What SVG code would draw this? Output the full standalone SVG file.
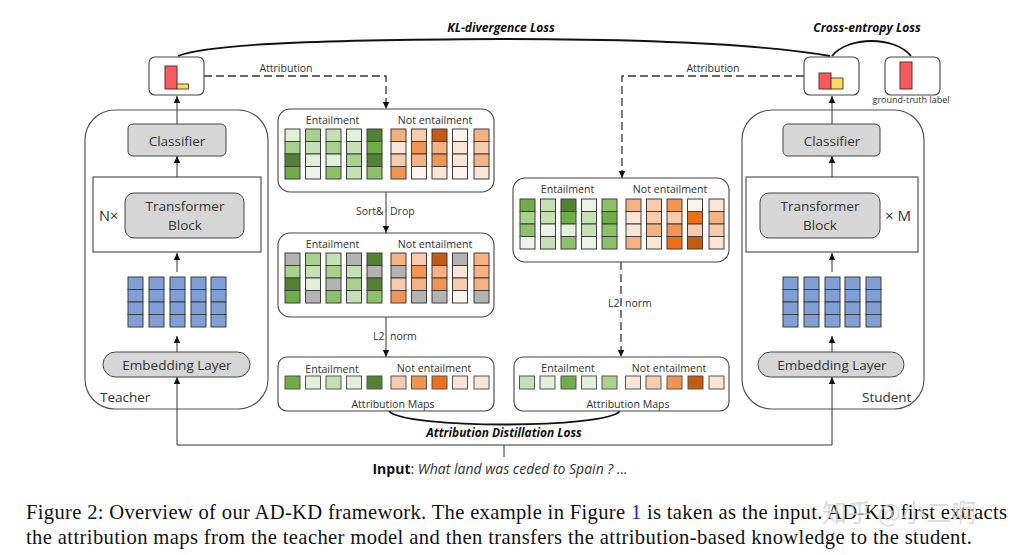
<svg xmlns="http://www.w3.org/2000/svg" width="1018" height="555" viewBox="0 0 1018 555">
<defs>
<marker id="ah" markerUnits="userSpaceOnUse" markerWidth="8" markerHeight="8" refX="7" refY="4" orient="auto"><path d="M0,0.8 L7,4 L0,7.2 Z" fill="#111"/></marker>
<style>
text{font-family:"Open Sans","Noto Sans",sans-serif;fill:#333;font-size:10.5px}
.c{width:15px;height:12.5px;stroke:#3d3d3d;stroke-width:1}
.s{width:15px;height:13px;stroke:#555;stroke-width:1}
.panel{fill:#fff;stroke:#444;stroke-width:1.1}
.gb{fill:#d6d6d6;stroke:#444;stroke-width:1}
.lb{font-size:13.5px;text-anchor:middle;fill:#333}
.big{fill:#fff;stroke:#555;stroke-width:1.2}
.loss{font-weight:bold;font-style:italic;text-anchor:middle;fill:#111;font-size:12.1px}
.conn{fill:none;stroke:#333;stroke-width:1}
.dash{fill:none;stroke:#333;stroke-width:1.3;stroke-dasharray:8 4}
.curve{fill:none;stroke:#111;stroke-width:1.8}
.cap{font-family:"Liberation Serif",serif;font-size:20.6px;fill:#111}
.hd{text-anchor:middle;font-size:10.6px}
.x{fill:#7f9fd6}
.g0{fill:#edf4e7}.g1{fill:#e2f0d9}.g2{fill:#c5e0b4}.g3{fill:#a9d18e}.g4{fill:#8cc168}.g5{fill:#70ad47}.g6{fill:#548235}
.o0{fill:#fef4ec}.o1{fill:#fbe5d6}.o2{fill:#f8cbad}.o3{fill:#f4b183}.o4{fill:#f09552}.o5{fill:#ed7018}.o6{fill:#c55a11}
.k{fill:#b3b3b3}
.r{fill:#f85a5f;stroke:#5a3030;stroke-width:1}.y{fill:#ffd966;stroke:#5a4a20;stroke-width:1}
</style>
</defs>
<rect width="1018" height="555" fill="#fff"/>
<g id="teacher">
<rect class="big" x="85" y="110" width="183" height="299" rx="30"/>
<text x="100" y="402" style="font-size:13.5px">Teacher</text>
</g>
<g id="student">
<rect class="big" x="742" y="110" width="182" height="299" rx="30"/>
<text x="862" y="402" style="font-size:13.5px">Student</text>
</g>
<g id="connectors">
<path class="conn" marker-end="url(#ah)" d="M177,124 V96"/>
<path class="conn" marker-end="url(#ah)" d="M177,177 V156"/>
<path class="conn" marker-end="url(#ah)" d="M177,272 V253"/>
<path class="conn" marker-end="url(#ah)" d="M177,352 V336"/>
<path class="conn" marker-end="url(#ah)" d="M832,124 V96"/>
<path class="conn" marker-end="url(#ah)" d="M832,177 V156"/>
<path class="conn" marker-end="url(#ah)" d="M832,272 V253"/>
<path class="conn" marker-end="url(#ah)" d="M832,352 V336"/>
<path class="conn" marker-end="url(#ah)" d="M177,445 V377"/>
<path class="conn" marker-end="url(#ah)" d="M832,445 V377"/>
<path class="conn" d="M177,445 H832 M504,445 V457"/>
<path class="dash" marker-end="url(#ah)" d="M204,76 H386 V109"/>
<path class="dash" marker-end="url(#ah)" d="M804,76 H622 V178"/>
<path class="conn" marker-end="url(#ah)" d="M386,192 V233"/>
<path class="conn" marker-end="url(#ah)" d="M386,317 V357"/>
<path class="dash" marker-end="url(#ah)" d="M621,262 V357"/>
<path class="curve" d="M178,56 C205,45 300,40 500,39 C640,39 760,44 830,56"/>
<path class="curve" d="M832,56 C848,36 895,36 911,56"/>
<path class="curve" d="M389,411 C403,429 606,429 620,411"/>
</g>
<g id="teacher-logits">
<rect class="panel" x="149" y="57" width="55" height="38" rx="6"/>
<rect class="r" x="165" y="66" width="12" height="23"/><rect class="y" x="177" y="84" width="11.500" height="5"/>
</g>
<g id="student-logits">
<rect class="panel" x="804" y="57" width="55" height="38" rx="6"/>
<rect class="r" x="819" y="73" width="12" height="16"/><rect class="y" x="831" y="78" width="12" height="11"/>
</g>
<g id="ground-truth">
<rect class="panel" x="885" y="57" width="55" height="38" rx="6"/>
<rect class="r" x="900" y="62" width="12" height="27"/>
<text x="911" y="103" text-anchor="middle" style="font-size:9px">ground-truth label</text>
</g>
<g id="teacher-classifier"><rect class="gb" x="128" y="124" width="98" height="32" rx="5"/><text class="lb" x="177" y="145.500">Classifier</text></g>
<g id="student-classifier"><rect class="gb" x="783" y="124" width="97" height="32" rx="5"/><text class="lb" x="832" y="145.500">Classifier</text></g>
<g id="teacher-transformer">
<rect fill="#fff" stroke="#333" x="93" y="177" width="168" height="75"/>
<text x="99" y="221" style="font-size:14.5px">N×</text>
<rect class="gb" x="125" y="193" width="119" height="45" rx="9"/>
<text class="lb" x="185" y="211">Transformer</text><text class="lb" x="185" y="230">Block</text>
</g>
<g id="student-transformer">
<rect fill="#fff" stroke="#333" x="746" y="177" width="172" height="75"/>
<text x="885" y="221" style="font-size:15px">× M</text>
<rect class="gb" x="760" y="193" width="120" height="45" rx="9"/>
<text class="lb" x="820" y="211">Transformer</text><text class="lb" x="820" y="230">Block</text>
</g>
<g id="teacher-embedding-cells">
<g transform="translate(128,277)"><rect class="c x"/><rect class="c x" y="12.500"/><rect class="c x" y="25"/><rect class="c x" y="37.500"/></g>
<g transform="translate(149,277)"><rect class="c x"/><rect class="c x" y="12.500"/><rect class="c x" y="25"/><rect class="c x" y="37.500"/></g>
<g transform="translate(170,277)"><rect class="c x"/><rect class="c x" y="12.500"/><rect class="c x" y="25"/><rect class="c x" y="37.500"/></g>
<g transform="translate(191,277)"><rect class="c x"/><rect class="c x" y="12.500"/><rect class="c x" y="25"/><rect class="c x" y="37.500"/></g>
<g transform="translate(211,277)"><rect class="c x"/><rect class="c x" y="12.500"/><rect class="c x" y="25"/><rect class="c x" y="37.500"/></g>
</g>
<g id="student-embedding-cells">
<g transform="translate(783,277)"><rect class="c x"/><rect class="c x" y="12.500"/><rect class="c x" y="25"/><rect class="c x" y="37.500"/></g>
<g transform="translate(804,277)"><rect class="c x"/><rect class="c x" y="12.500"/><rect class="c x" y="25"/><rect class="c x" y="37.500"/></g>
<g transform="translate(825,277)"><rect class="c x"/><rect class="c x" y="12.500"/><rect class="c x" y="25"/><rect class="c x" y="37.500"/></g>
<g transform="translate(845,277)"><rect class="c x"/><rect class="c x" y="12.500"/><rect class="c x" y="25"/><rect class="c x" y="37.500"/></g>
<g transform="translate(866,277)"><rect class="c x"/><rect class="c x" y="12.500"/><rect class="c x" y="25"/><rect class="c x" y="37.500"/></g>
</g>
<g id="teacher-embedding"><rect class="gb" x="103" y="352" width="147" height="25" rx="12.500"/><text class="lb" x="177" y="370">Embedding Layer</text></g>
<g id="student-embedding"><rect class="gb" x="758" y="352" width="146" height="25" rx="12.500"/><text class="lb" x="832" y="370">Embedding Layer</text></g>

<g id="teacher-attr">
<rect class="panel" x="278" y="109" width="216" height="83" rx="12"/>
<text class="hd" x="332.500" y="124">Entailment</text><text class="hd" x="435" y="124">Not entailment</text>
<g transform="translate(285,129)"><rect class="c g1"/><rect class="c g3" y="12.500"/><rect class="c g6" y="25"/><rect class="c g5" y="37.500"/></g>
<g transform="translate(305.500,129)"><rect class="c g3"/><rect class="c g2" y="12.500"/><rect class="c g1" y="25"/><rect class="c g0" y="37.500"/></g>
<g transform="translate(326,129)"><rect class="c g2"/><rect class="c g3" y="12.500"/><rect class="c g1" y="25"/><rect class="c g4" y="37.500"/></g>
<g transform="translate(346.500,129)"><rect class="c g1"/><rect class="c g2" y="12.500"/><rect class="c g3" y="25"/><rect class="c g2" y="37.500"/></g>
<g transform="translate(367,129)"><rect class="c g6"/><rect class="c g5" y="12.500"/><rect class="c g6" y="25"/><rect class="c g4" y="37.500"/></g>
<g transform="translate(391,129)"><rect class="c o3"/><rect class="c o1" y="12.500"/><rect class="c o2" y="25"/><rect class="c o4" y="37.500"/></g>
<g transform="translate(411.500,129)"><rect class="c o2"/><rect class="c o4" y="12.500"/><rect class="c o3" y="25"/><rect class="c o0" y="37.500"/></g>
<g transform="translate(432,129)"><rect class="c o6"/><rect class="c o3" y="12.500"/><rect class="c o4" y="25"/><rect class="c o1" y="37.500"/></g>
<g transform="translate(452.500,129)"><rect class="c o0"/><rect class="c o1" y="12.500"/><rect class="c o1" y="25"/><rect class="c o0" y="37.500"/></g>
<g transform="translate(474,129)"><rect class="c o3"/><rect class="c o2" y="12.500"/><rect class="c o3" y="25"/><rect class="c o1" y="37.500"/></g>
</g>
<g id="sorted-attr">
<rect class="panel" x="278" y="233" width="216" height="84" rx="12"/>
<text class="hd" x="332.500" y="248">Entailment</text><text class="hd" x="435" y="248">Not entailment</text>
<g transform="translate(285,253)"><rect class="c k"/><rect class="c g3" y="12.500"/><rect class="c g6" y="25"/><rect class="c g5" y="37.500"/></g>
<g transform="translate(305.500,253)"><rect class="c g3"/><rect class="c g2" y="12.500"/><rect class="c g1" y="25"/><rect class="c k" y="37.500"/></g>
<g transform="translate(326,253)"><rect class="c g2"/><rect class="c g3" y="12.500"/><rect class="c k" y="25"/><rect class="c g4" y="37.500"/></g>
<g transform="translate(346.500,253)"><rect class="c k"/><rect class="c g2" y="12.500"/><rect class="c g3" y="25"/><rect class="c g2" y="37.500"/></g>
<g transform="translate(367,253)"><rect class="c g6"/><rect class="c k" y="12.500"/><rect class="c g6" y="25"/><rect class="c g4" y="37.500"/></g>
<g transform="translate(391,253)"><rect class="c o3"/><rect class="c k" y="12.500"/><rect class="c o2" y="25"/><rect class="c o4" y="37.500"/></g>
<g transform="translate(411.500,253)"><rect class="c o2"/><rect class="c o4" y="12.500"/><rect class="c o3" y="25"/><rect class="c k" y="37.500"/></g>
<g transform="translate(432,253)"><rect class="c o6"/><rect class="c o3" y="12.500"/><rect class="c o4" y="25"/><rect class="c k" y="37.500"/></g>
<g transform="translate(452.500,253)"><rect class="c k"/><rect class="c o1" y="12.500"/><rect class="c o2" y="25"/><rect class="c o0" y="37.500"/></g>
<g transform="translate(474,253)"><rect class="c o3"/><rect class="c o3" y="12.500"/><rect class="c o3" y="25"/><rect class="c k" y="37.500"/></g>
</g>
<g id="student-attr">
<rect class="panel" x="513" y="178" width="216" height="84" rx="12"/>
<text class="hd" x="567.500" y="193">Entailment</text><text class="hd" x="670" y="193">Not entailment</text>
<g transform="translate(520,199)"><rect class="c g5"/><rect class="c g3" y="12.500"/><rect class="c g4" y="25"/><rect class="c g0" y="37.500"/></g>
<g transform="translate(540.500,199)"><rect class="c g2"/><rect class="c g2" y="12.500"/><rect class="c g0" y="25"/><rect class="c g2" y="37.500"/></g>
<g transform="translate(561,199)"><rect class="c g6"/><rect class="c g5" y="12.500"/><rect class="c g1" y="25"/><rect class="c g4" y="37.500"/></g>
<g transform="translate(581.500,199)"><rect class="c g0"/><rect class="c g2" y="12.500"/><rect class="c g2" y="25"/><rect class="c g0" y="37.500"/></g>
<g transform="translate(602,199)"><rect class="c g4"/><rect class="c g5" y="12.500"/><rect class="c g4" y="25"/><rect class="c g4" y="37.500"/></g>
<g transform="translate(626,199)"><rect class="c o3"/><rect class="c o1" y="12.500"/><rect class="c o1" y="25"/><rect class="c o3" y="37.500"/></g>
<g transform="translate(646.500,199)"><rect class="c o2"/><rect class="c o2" y="12.500"/><rect class="c o3" y="25"/><rect class="c o1" y="37.500"/></g>
<g transform="translate(667,199)"><rect class="c o4"/><rect class="c o2" y="12.500"/><rect class="c o4" y="25"/><rect class="c o5" y="37.500"/></g>
<g transform="translate(687.500,199)"><rect class="c o0"/><rect class="c o5" y="12.500"/><rect class="c o2" y="25"/><rect class="c o6" y="37.500"/></g>
<g transform="translate(709,199)"><rect class="c o1"/><rect class="c o3" y="12.500"/><rect class="c o2" y="25"/><rect class="c o1" y="37.500"/></g>
</g>
<g id="teacher-map">
<rect class="panel" x="278" y="357" width="216" height="54" rx="9"/>
<text class="hd" x="332" y="373">Entailment</text><text class="hd" x="434" y="372">Not entailment</text>
<rect class="s g5" x="285" y="376"/><rect class="s g1" x="305.500" y="376"/><rect class="s g2" x="326" y="376"/><rect class="s g1" x="346.500" y="376"/><rect class="s g6" x="367" y="376"/>
<rect class="s o2" x="391" y="376"/><rect class="s o4" x="411.500" y="376"/><rect class="s o5" x="432" y="376"/><rect class="s o1" x="452.500" y="376"/><rect class="s o1" x="474" y="376"/>
<text class="hd" x="393" y="408">Attribution Maps</text>
</g>
<g id="student-map">
<rect class="panel" x="514" y="357" width="215" height="54" rx="9"/>
<text class="hd" x="568" y="372">Entailment</text><text class="hd" x="669" y="372">Not entailment</text>
<rect class="s g2" x="519.500" y="376"/><rect class="s g1" x="540" y="376"/><rect class="s g5" x="561" y="376"/><rect class="s g1" x="581.500" y="376"/><rect class="s g3" x="602" y="376"/>
<rect class="s o1" x="625.500" y="376"/><rect class="s o2" x="646" y="376"/><rect class="s o4" x="667" y="376"/><rect class="s o6" x="688" y="376"/><rect class="s o1" x="709" y="376"/>
<text class="hd" x="628" y="408">Attribution Maps</text>
</g>
<g id="labels">
<text class="loss" x="501" y="32">KL-divergence Loss</text>
<text class="loss" x="867" y="32">Cross-entropy Loss</text>
<text x="286" y="72" text-anchor="middle">Attribution</text>
<text x="713" y="72" text-anchor="middle">Attribution</text>
<text x="356" y="215">Sort&amp;</text><text x="390" y="215">Drop</text>
<text x="373" y="340">L2</text><text x="390" y="340">norm</text>
<text x="608" y="307">L2</text><text x="625" y="307">norm</text>
<text class="loss" x="504" y="437" style="font-size:11.900px">Attribution Distillation Loss</text>
<text x="500" y="473.500" text-anchor="middle" style="font-size:14px"><tspan font-weight="bold" fill="#111">Input</tspan>: <tspan font-style="italic">What land was ceded to Spain ? ...</tspan></text>
</g>
<g id="caption">
<text class="cap" x="26" y="519" textLength="981">Figure 2: Overview of our AD-KD framework. The example in Figure <tspan fill="#2222bb">1</tspan> is taken as the input. AD-KD first extracts</text>
<text class="cap" x="26" y="544" textLength="946">the attribution maps from the teacher model and then transfers the attribution-based knowledge to the student.</text>
</g>
<g id="watermark">
<text x="822" y="522" style="font-family:'Noto Sans CJK SC',sans-serif;font-size:25px;fill:#cfcfcf;fill-opacity:.75">知乎 @小二啊</text>
</g>
</svg>
